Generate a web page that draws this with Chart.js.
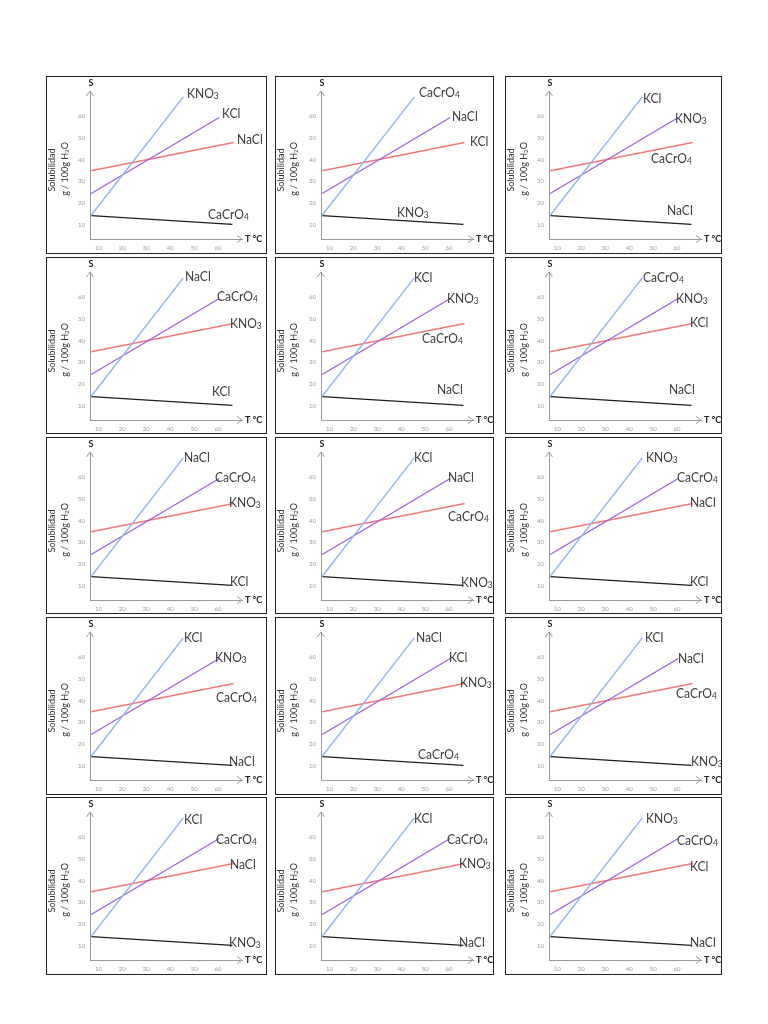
<!DOCTYPE html>
<html lang="es">
<head>
    <meta charset="UTF-8">
    <title>Curvas de solubilidad</title>
    <script src="https://cdn.jsdelivr.net/npm/chart.js"></script>
    <style>
        body { margin: 0; background: #fff; }
        #hoja { position: relative; width: 768px; height: 1024px; }
        .ficha { position: absolute; border: 1px solid #222; background: #fff; }
        .ficha canvas { display: block; }
    </style>
</head>
<body>
    <div id="hoja"></div>
    <script>
        // Marcas de los ejes
        const ticksT = [10, 20, 30, 40, 50, 60];
        const ticksS = [10, 20, 30, 40, 50, 60];

        // Rectas: temperatura y solubilidad al inicio y al final (azul, morada, roja, negra)
        const tInicio = [7, 7, 7, 7];
        const tFin = [45.5, 60.5, 66.5, 66];
        const sInicio = [14.5, 24.5, 35, 14.3];
        const sFin = [69, 59.5, 48, 10.3];

        // Nombre de cada recta en las 15 fichas (azul, morada, roja, negra)
        const nombresFichas = [
            ['KNO3', 'KCl', 'NaCl', 'CaCrO4'],
            ['CaCrO4', 'NaCl', 'KCl', 'KNO3'],
            ['KCl', 'KNO3', 'CaCrO4', 'NaCl'],
            ['NaCl', 'CaCrO4', 'KNO3', 'KCl'],
            ['KCl', 'KNO3', 'CaCrO4', 'NaCl'],
            ['CaCrO4', 'KNO3', 'KCl', 'NaCl'],
            ['NaCl', 'CaCrO4', 'KNO3', 'KCl'],
            ['KCl', 'NaCl', 'CaCrO4', 'KNO3'],
            ['KNO3', 'CaCrO4', 'NaCl', 'KCl'],
            ['KCl', 'KNO3', 'CaCrO4', 'NaCl'],
            ['NaCl', 'KCl', 'KNO3', 'CaCrO4'],
            ['KCl', 'NaCl', 'CaCrO4', 'KNO3'],
            ['KCl', 'CaCrO4', 'NaCl', 'KNO3'],
            ['KCl', 'CaCrO4', 'KNO3', 'NaCl'],
            ['KNO3', 'CaCrO4', 'KCl', 'NaCl']
        ];

        // Estilo y posición (no son datos)
        const colores = ['#8db5f2', '#a062dc', '#f27878', '#1e1e1e'];
        const colX = [46, 275, 505];
        const anchoCol = [221, 219, 217];
        const ejeIzqCol = [43, 45, 43];
        const filaY = [76, 257, 437, 617, 797];
        const altoFila = [178, 177, 177, 178, 178];

        // Posición de cada nombre dentro de la ficha [x izquierda, y centro]
        const posEtiquetas = [
            [[141, 17], [176, 37], [191, 63], [162, 138]],
            [[144, 16], [177, 40], [195, 65], [122, 136]],
            [[138, 22], [170, 42], [146, 82], [162, 134]],
            [[139, 19], [171, 39], [184, 66], [166, 134]],
            [[139, 20], [172, 41], [147, 81], [162, 132]],
            [[138, 20], [171, 41], [185, 65], [164, 132]],
            [[138, 20], [169, 40], [183, 65], [184, 144]],
            [[139, 20], [173, 40], [173, 79], [186, 145]],
            [[141, 20], [172, 40], [185, 65], [185, 144]],
            [[138, 20], [169, 40], [170, 80], [183, 144]],
            [[141, 20], [174, 40], [185, 65], [143, 137]],
            [[140, 20], [173, 41], [171, 76], [186, 144]],
            [[138, 22], [170, 42], [184, 67], [183, 145]],
            [[139, 21], [172, 42], [184, 66], [184, 145]],
            [[141, 21], [172, 43], [185, 69], [185, 145]]
        ];

        const fuente = 'Lato, "Liberation Sans", sans-serif';

        // Escribe una fórmula con los números como subíndice (letra algo estrecha)
        function escribirFormula(ctx, texto, x, y, tam) {
            ctx.save();
            ctx.translate(x, y);
            ctx.scale(0.86, 1);
            let cx = 0;
            for (const parte of texto.match(/[^0-9]+|[0-9]+/g)) {
                const sub = /[0-9]/.test(parte);
                ctx.font = (sub ? tam * 0.7 : tam) + 'px ' + fuente;
                ctx.fillText(parte, cx, sub ? tam * 0.22 : 0);
                cx += ctx.measureText(parte).width;
            }
            ctx.restore();
        }

        // Título vertical del eje de solubilidad
        function tituloVertical(ctx, x, y, partes, tam) {
            ctx.save();
            ctx.translate(x, y);
            ctx.rotate(-Math.PI / 2);
            let ancho = 0;
            partes.forEach(p => {
                ctx.font = (p.sub ? tam * 0.7 : tam) + 'px ' + fuente;
                ancho += ctx.measureText(p.t).width;
            });
            let cx = -ancho / 2;
            partes.forEach(p => {
                ctx.font = (p.sub ? tam * 0.7 : tam) + 'px ' + fuente;
                ctx.fillText(p.t, cx, p.sub ? tam * 0.2 : 0);
                cx += ctx.measureText(p.t).width;
            });
            ctx.restore();
        }

        // Flechas, títulos y nombres de las rectas
        const dibujoFicha = {
            id: 'dibujoFicha',
            afterDraw(chart) {
                const ctx = chart.ctx;
                const a = chart.chartArea;
                const n = chart.options.plugins.dibujoFicha.indice;

                ctx.save();
                ctx.strokeStyle = '#999';
                ctx.lineWidth = 1;
                ctx.beginPath();
                ctx.moveTo(a.left - 3.5, a.top + 5);
                ctx.lineTo(a.left, a.top);
                ctx.lineTo(a.left + 3.5, a.top + 5);
                ctx.moveTo(a.right - 5, a.bottom - 3.5);
                ctx.lineTo(a.right, a.bottom);
                ctx.lineTo(a.right - 5, a.bottom + 3.5);
                ctx.stroke();

                ctx.fillStyle = '#222';
                ctx.textBaseline = 'middle';
                ctx.textAlign = 'center';
                ctx.font = 'bold 9px ' + fuente;
                ctx.fillText('S', a.left + 1, a.top - 8);
                ctx.textAlign = 'left';
                ctx.fillText('T °C', a.right + 3, a.bottom);

                ctx.fillStyle = '#333';
                tituloVertical(ctx, 5, 93, [{ t: 'Solubilidad' }], 9);
                tituloVertical(ctx, 18, 92, [{ t: 'g / 100g H' }, { t: '2', sub: true }, { t: 'O' }], 9);

                ctx.fillStyle = '#3c3c3c';
                nombresFichas[n].forEach((nombre, i) => {
                    const p = posEtiquetas[n][i];
                    escribirFormula(ctx, nombre, p[0] - 1, p[1] - 1, 14);
                });
                ctx.restore();
            }
        };

        function crearFicha(n) {
            const col = n % 3;
            const fila = Math.floor(n / 3);
            const div = document.createElement('div');
            div.className = 'ficha';
            div.style.left = colX[col] + 'px';
            div.style.top = filaY[fila] + 'px';
            const ancho = anchoCol[col] - 2;
            const alto = altoFila[fila] - 2;
            const canvas = document.createElement('canvas');
            canvas.width = ancho;
            canvas.height = alto;
            canvas.style.width = ancho + 'px';
            canvas.style.height = alto + 'px';
            div.appendChild(canvas);
            document.getElementById('hoja').appendChild(div);

            const ejeIzq = ejeIzqCol[col];
            const ejeAbajo = 162;

            new Chart(canvas.getContext('2d'), {
                type: 'line',
                data: {
                    datasets: tInicio.map((t0, i) => ({
                        data: [{ x: t0, y: sInicio[i] }, { x: tFin[i], y: sFin[i] }],
                        borderColor: colores[i],
                        borderWidth: 1.4,
                        pointRadius: 0,
                        tension: 0,
                        clip: false
                    }))
                },
                options: {
                    responsive: false,
                    animation: false,
                    devicePixelRatio: 1,
                    layout: {
                        padding: { left: ejeIzq - 20, top: 14, right: ancho - ejeIzq - 152, bottom: alto - ejeAbajo - 12 }
                    },
                    plugins: {
                        legend: { display: false },
                        tooltip: { enabled: false },
                        dibujoFicha: { indice: n }
                    },
                    scales: {
                        x: {
                            type: 'linear',
                            min: 6.5,
                            max: 70,
                            grid: { display: false, drawTicks: false },
                            border: { color: '#999', width: 1 },
                            ticks: { color: '#999', padding: 5, font: { size: 6, family: fuente } },
                            afterBuildTicks: s => { s.ticks = ticksT.map(v => ({ value: v })); },
                            afterFit: s => { s.height = 12; s.paddingLeft = 0; s.paddingRight = 0; }
                        },
                        y: {
                            type: 'linear',
                            min: 3.55,
                            max: 71.7,
                            grid: { display: false, drawTicks: false },
                            border: { color: '#999', width: 1 },
                            ticks: { color: '#999', padding: 5, font: { size: 6, family: fuente } },
                            afterBuildTicks: s => { s.ticks = ticksS.map(v => ({ value: v })); },
                            afterFit: s => { s.width = 20; s.paddingTop = 0; s.paddingBottom = 0; }
                        }
                    }
                },
                plugins: [dibujoFicha]
            });
        }

        for (let n = 0; n < 15; n++) {
            crearFicha(n);
        }
    </script>
</body>
</html>
